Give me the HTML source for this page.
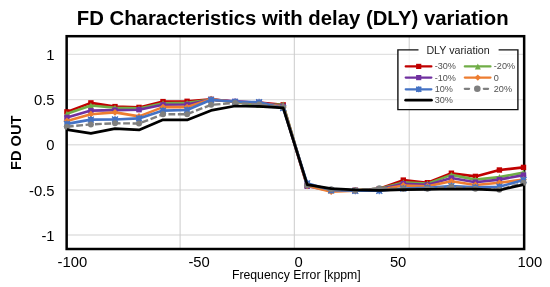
<!DOCTYPE html>
<html><head><meta charset="utf-8"><title>FD Characteristics</title>
<style>
html,body{margin:0;padding:0;background:#fff;}
body{width:550px;height:287px;overflow:hidden;}
svg{display:block;}
text{font-family:"Liberation Sans",Arial,sans-serif;fill:#000;}
.title{font-weight:bold;font-size:19.6px;}
.tick{font-size:14.8px;fill:#111;}
.ylab{font-weight:bold;font-size:14.3px;}
.xlab{font-size:12px;}
.lg{font-family:"Liberation Sans","DejaVu Sans",sans-serif;font-size:9.1px;fill:#505050;}
.lgt{font-family:"Liberation Sans","DejaVu Sans",sans-serif;font-size:10.6px;fill:#222;}
</style></head><body>
<svg width="550" height="287" viewBox="0 0 550 287">
<rect width="550" height="287" fill="#fff"/>
<text x="76.8" y="24.7" class="title" textLength="431.8" lengthAdjust="spacingAndGlyphs">FD Characteristics with delay (DLY) variation</text>
<g stroke="#e1e1e1" stroke-width="1.4">
<line x1="67" x2="524" y1="54.4" y2="54.4"/>
<line x1="67" x2="524" y1="99.6" y2="99.6"/>
<line x1="67" x2="524" y1="144.7" y2="144.7"/>
<line x1="67" x2="524" y1="190" y2="190"/>
<line x1="67" x2="524" y1="235" y2="235"/>
</g>
<g stroke="#cbcbcb" stroke-width="1">
<line x1="180.1" x2="180.1" y1="37" y2="248"/>
<line x1="294.3" x2="294.3" y1="37" y2="248"/>
<line x1="409.2" x2="409.2" y1="37" y2="248"/>
</g>
<rect x="66.65" y="36.2" width="457.5" height="212.8" fill="none" stroke="#000" stroke-width="2.5"/>
<polyline points="66.9,111.9 90.9,102.9 115.0,106.6 139.0,107.4 163.0,101.6 187.1,101.3 211.1,99.4 235.1,101.8 259.1,102.6 283.2,104.9 307.2,185.3 331.2,190.3 355.3,190.3 379.3,188.8 403.3,180.1 427.4,182.7 451.4,173.2 475.4,176.4 499.4,170.0 523.5,167.4" fill="none" stroke="#C00000" stroke-width="2.6" stroke-linejoin="round"/>
<rect x="64.2" y="109.2" width="5.4" height="5.4" fill="#C00000"/><rect x="88.2" y="100.2" width="5.4" height="5.4" fill="#C00000"/><rect x="112.3" y="103.9" width="5.4" height="5.4" fill="#C00000"/><rect x="136.3" y="104.7" width="5.4" height="5.4" fill="#C00000"/><rect x="160.3" y="98.9" width="5.4" height="5.4" fill="#C00000"/><rect x="184.4" y="98.6" width="5.4" height="5.4" fill="#C00000"/><rect x="208.4" y="96.7" width="5.4" height="5.4" fill="#C00000"/><rect x="232.4" y="99.1" width="5.4" height="5.4" fill="#C00000"/><rect x="256.4" y="99.9" width="5.4" height="5.4" fill="#C00000"/><rect x="280.5" y="102.2" width="5.4" height="5.4" fill="#C00000"/><rect x="304.5" y="182.6" width="5.4" height="5.4" fill="#C00000"/><rect x="328.5" y="187.6" width="5.4" height="5.4" fill="#C00000"/><rect x="352.6" y="187.6" width="5.4" height="5.4" fill="#C00000"/><rect x="376.6" y="186.1" width="5.4" height="5.4" fill="#C00000"/><rect x="400.6" y="177.4" width="5.4" height="5.4" fill="#C00000"/><rect x="424.7" y="180.0" width="5.4" height="5.4" fill="#C00000"/><rect x="448.7" y="170.5" width="5.4" height="5.4" fill="#C00000"/><rect x="472.7" y="173.7" width="5.4" height="5.4" fill="#C00000"/><rect x="496.7" y="167.3" width="5.4" height="5.4" fill="#C00000"/><rect x="520.8" y="164.7" width="5.4" height="5.4" fill="#C00000"/>
<polyline points="66.9,113.8 90.9,105.5 115.0,107.7 139.0,108.4 163.0,103.3 187.1,102.9 211.1,99.6 235.1,102.0 259.1,105.1 283.2,104.6 307.2,185.3 331.2,190.3 355.3,190.3 379.3,188.8 403.3,182.4 427.4,183.6 451.4,174.9 475.4,179.6 499.4,177.1 523.5,172.6" fill="none" stroke="#70AD47" stroke-width="2.6" stroke-linejoin="round"/>
<path d="M66.9 110.8L69.9 116.8H63.9Z" fill="#70AD47"/><path d="M90.9 102.5L93.9 108.5H87.9Z" fill="#70AD47"/><path d="M115.0 104.7L118.0 110.7H112.0Z" fill="#70AD47"/><path d="M139.0 105.4L142.0 111.4H136.0Z" fill="#70AD47"/><path d="M163.0 100.3L166.0 106.3H160.0Z" fill="#70AD47"/><path d="M187.1 99.9L190.1 105.9H184.1Z" fill="#70AD47"/><path d="M211.1 96.6L214.1 102.6H208.1Z" fill="#70AD47"/><path d="M235.1 99.0L238.1 105.0H232.1Z" fill="#70AD47"/><path d="M259.1 102.1L262.1 108.1H256.1Z" fill="#70AD47"/><path d="M283.2 101.6L286.2 107.6H280.2Z" fill="#70AD47"/><path d="M307.2 182.3L310.2 188.3H304.2Z" fill="#70AD47"/><path d="M331.2 187.3L334.2 193.3H328.2Z" fill="#70AD47"/><path d="M355.3 187.3L358.3 193.3H352.3Z" fill="#70AD47"/><path d="M379.3 185.8L382.3 191.8H376.3Z" fill="#70AD47"/><path d="M403.3 179.4L406.3 185.4H400.3Z" fill="#70AD47"/><path d="M427.4 180.6L430.4 186.6H424.4Z" fill="#70AD47"/><path d="M451.4 171.9L454.4 177.9H448.4Z" fill="#70AD47"/><path d="M475.4 176.6L478.4 182.6H472.4Z" fill="#70AD47"/><path d="M499.4 174.1L502.4 180.1H496.4Z" fill="#70AD47"/><path d="M523.5 169.6L526.5 175.6H520.5Z" fill="#70AD47"/>
<polyline points="66.9,117.4 90.9,110.6 115.0,110.1 139.0,109.7 163.0,104.8 187.1,104.5 211.1,99.6 235.1,101.4 259.1,102.6 283.2,106.3 307.2,186.3 331.2,190.6 355.3,190.6 379.3,189.3 403.3,183.7 427.4,184.9 451.4,178.0 475.4,182.2 499.4,179.6 523.5,175.1" fill="none" stroke="#7030A0" stroke-width="2.6" stroke-linejoin="round"/>
<rect x="64.2" y="114.7" width="5.4" height="5.4" fill="#7030A0"/><rect x="88.2" y="107.9" width="5.4" height="5.4" fill="#7030A0"/><rect x="112.3" y="107.4" width="5.4" height="5.4" fill="#7030A0"/><rect x="136.3" y="107.0" width="5.4" height="5.4" fill="#7030A0"/><rect x="160.3" y="102.1" width="5.4" height="5.4" fill="#7030A0"/><rect x="184.4" y="101.8" width="5.4" height="5.4" fill="#7030A0"/><rect x="208.4" y="96.9" width="5.4" height="5.4" fill="#7030A0"/><rect x="232.4" y="98.7" width="5.4" height="5.4" fill="#7030A0"/><rect x="256.4" y="99.9" width="5.4" height="5.4" fill="#7030A0"/><rect x="280.5" y="103.6" width="5.4" height="5.4" fill="#7030A0"/><rect x="304.5" y="183.6" width="5.4" height="5.4" fill="#7030A0"/><rect x="328.5" y="187.9" width="5.4" height="5.4" fill="#7030A0"/><rect x="352.6" y="187.9" width="5.4" height="5.4" fill="#7030A0"/><rect x="376.6" y="186.6" width="5.4" height="5.4" fill="#7030A0"/><rect x="400.6" y="181.0" width="5.4" height="5.4" fill="#7030A0"/><rect x="424.7" y="182.2" width="5.4" height="5.4" fill="#7030A0"/><rect x="448.7" y="175.3" width="5.4" height="5.4" fill="#7030A0"/><rect x="472.7" y="179.5" width="5.4" height="5.4" fill="#7030A0"/><rect x="496.7" y="176.9" width="5.4" height="5.4" fill="#7030A0"/><rect x="520.8" y="172.4" width="5.4" height="5.4" fill="#7030A0"/>
<polyline points="66.9,120.9 90.9,114.2 115.0,112.4 139.0,116.4 163.0,107.1 187.1,107.1 211.1,99.2 235.1,102.0 259.1,102.8 283.2,106.8 307.2,185.8 331.2,191.7 355.3,190.8 379.3,189.8 403.3,185.5 427.4,186.2 451.4,181.3 475.4,185.0 499.4,182.8 523.5,179.6" fill="none" stroke="#ED7D31" stroke-width="2.6" stroke-linejoin="round"/>
<path d="M66.9 117.5L70.3 120.9L66.9 124.3L63.5 120.9Z" fill="#ED7D31"/><path d="M90.9 110.8L94.3 114.2L90.9 117.6L87.5 114.2Z" fill="#ED7D31"/><path d="M115.0 109.0L118.4 112.4L115.0 115.8L111.6 112.4Z" fill="#ED7D31"/><path d="M139.0 113.0L142.4 116.4L139.0 119.8L135.6 116.4Z" fill="#ED7D31"/><path d="M163.0 103.7L166.4 107.1L163.0 110.5L159.6 107.1Z" fill="#ED7D31"/><path d="M187.1 103.7L190.5 107.1L187.1 110.5L183.7 107.1Z" fill="#ED7D31"/><path d="M211.1 95.8L214.5 99.2L211.1 102.6L207.7 99.2Z" fill="#ED7D31"/><path d="M235.1 98.6L238.5 102.0L235.1 105.4L231.7 102.0Z" fill="#ED7D31"/><path d="M259.1 99.4L262.5 102.8L259.1 106.2L255.7 102.8Z" fill="#ED7D31"/><path d="M283.2 103.4L286.6 106.8L283.2 110.2L279.8 106.8Z" fill="#ED7D31"/><path d="M307.2 182.4L310.6 185.8L307.2 189.2L303.8 185.8Z" fill="#ED7D31"/><path d="M331.2 188.3L334.6 191.7L331.2 195.1L327.8 191.7Z" fill="#ED7D31"/><path d="M355.3 187.4L358.7 190.8L355.3 194.2L351.9 190.8Z" fill="#ED7D31"/><path d="M379.3 186.4L382.7 189.8L379.3 193.2L375.9 189.8Z" fill="#ED7D31"/><path d="M403.3 182.1L406.7 185.5L403.3 188.9L399.9 185.5Z" fill="#ED7D31"/><path d="M427.4 182.8L430.8 186.2L427.4 189.6L424.0 186.2Z" fill="#ED7D31"/><path d="M451.4 177.9L454.8 181.3L451.4 184.7L448.0 181.3Z" fill="#ED7D31"/><path d="M475.4 181.6L478.8 185.0L475.4 188.4L472.0 185.0Z" fill="#ED7D31"/><path d="M499.4 179.4L502.8 182.8L499.4 186.2L496.0 182.8Z" fill="#ED7D31"/><path d="M523.5 176.2L526.9 179.6L523.5 183.0L520.1 179.6Z" fill="#ED7D31"/>
<polyline points="66.9,123.9 90.9,119.6 115.0,119.5 139.0,118.4 163.0,110.6 187.1,110.0 211.1,99.8 235.1,101.8 259.1,102.2 283.2,108.0 307.2,183.3 331.2,190.3 355.3,190.8 379.3,190.8 403.3,188.5 427.4,187.8 451.4,186.1 475.4,187.4 499.4,186.7 523.5,180.0" fill="none" stroke="#4472C4" stroke-width="2.6" stroke-linejoin="round"/>
<rect x="64.3" y="121.3" width="5.2" height="5.2" fill="#4472C4"/><path d="M63.9 120.9L69.9 126.9M69.9 120.9L63.9 126.9M66.9 120.4V127.4" stroke="#4472C4" stroke-width="1.1" fill="none"/><rect x="88.3" y="117.0" width="5.2" height="5.2" fill="#4472C4"/><path d="M87.9 116.6L93.9 122.6M93.9 116.6L87.9 122.6M90.9 116.1V123.1" stroke="#4472C4" stroke-width="1.1" fill="none"/><rect x="112.4" y="116.9" width="5.2" height="5.2" fill="#4472C4"/><path d="M112.0 116.5L118.0 122.5M118.0 116.5L112.0 122.5M115.0 116.0V123.0" stroke="#4472C4" stroke-width="1.1" fill="none"/><rect x="136.4" y="115.8" width="5.2" height="5.2" fill="#4472C4"/><path d="M136.0 115.4L142.0 121.4M142.0 115.4L136.0 121.4M139.0 114.9V121.9" stroke="#4472C4" stroke-width="1.1" fill="none"/><rect x="160.4" y="108.0" width="5.2" height="5.2" fill="#4472C4"/><path d="M160.0 107.6L166.0 113.6M166.0 107.6L160.0 113.6M163.0 107.1V114.1" stroke="#4472C4" stroke-width="1.1" fill="none"/><rect x="184.5" y="107.4" width="5.2" height="5.2" fill="#4472C4"/><path d="M184.1 107.0L190.1 113.0M190.1 107.0L184.1 113.0M187.1 106.5V113.5" stroke="#4472C4" stroke-width="1.1" fill="none"/><rect x="208.5" y="97.2" width="5.2" height="5.2" fill="#4472C4"/><path d="M208.1 96.8L214.1 102.8M214.1 96.8L208.1 102.8M211.1 96.3V103.3" stroke="#4472C4" stroke-width="1.1" fill="none"/><rect x="232.5" y="99.2" width="5.2" height="5.2" fill="#4472C4"/><path d="M232.1 98.8L238.1 104.8M238.1 98.8L232.1 104.8M235.1 98.3V105.3" stroke="#4472C4" stroke-width="1.1" fill="none"/><rect x="256.5" y="99.6" width="5.2" height="5.2" fill="#4472C4"/><path d="M256.1 99.2L262.1 105.2M262.1 99.2L256.1 105.2M259.1 98.7V105.7" stroke="#4472C4" stroke-width="1.1" fill="none"/><rect x="280.6" y="105.4" width="5.2" height="5.2" fill="#4472C4"/><path d="M280.2 105.0L286.2 111.0M286.2 105.0L280.2 111.0M283.2 104.5V111.5" stroke="#4472C4" stroke-width="1.1" fill="none"/><rect x="304.6" y="180.7" width="5.2" height="5.2" fill="#4472C4"/><path d="M304.2 180.3L310.2 186.3M310.2 180.3L304.2 186.3M307.2 179.8V186.8" stroke="#4472C4" stroke-width="1.1" fill="none"/><rect x="328.6" y="187.7" width="5.2" height="5.2" fill="#4472C4"/><path d="M328.2 187.3L334.2 193.3M334.2 187.3L328.2 193.3M331.2 186.8V193.8" stroke="#4472C4" stroke-width="1.1" fill="none"/><rect x="352.7" y="188.2" width="5.2" height="5.2" fill="#4472C4"/><path d="M352.3 187.8L358.3 193.8M358.3 187.8L352.3 193.8M355.3 187.3V194.3" stroke="#4472C4" stroke-width="1.1" fill="none"/><rect x="376.7" y="188.2" width="5.2" height="5.2" fill="#4472C4"/><path d="M376.3 187.8L382.3 193.8M382.3 187.8L376.3 193.8M379.3 187.3V194.3" stroke="#4472C4" stroke-width="1.1" fill="none"/><rect x="400.7" y="185.9" width="5.2" height="5.2" fill="#4472C4"/><path d="M400.3 185.5L406.3 191.5M406.3 185.5L400.3 191.5M403.3 185.0V192.0" stroke="#4472C4" stroke-width="1.1" fill="none"/><rect x="424.8" y="185.2" width="5.2" height="5.2" fill="#4472C4"/><path d="M424.4 184.8L430.4 190.8M430.4 184.8L424.4 190.8M427.4 184.3V191.3" stroke="#4472C4" stroke-width="1.1" fill="none"/><rect x="448.8" y="183.5" width="5.2" height="5.2" fill="#4472C4"/><path d="M448.4 183.1L454.4 189.1M454.4 183.1L448.4 189.1M451.4 182.6V189.6" stroke="#4472C4" stroke-width="1.1" fill="none"/><rect x="472.8" y="184.8" width="5.2" height="5.2" fill="#4472C4"/><path d="M472.4 184.4L478.4 190.4M478.4 184.4L472.4 190.4M475.4 183.9V190.9" stroke="#4472C4" stroke-width="1.1" fill="none"/><rect x="496.8" y="184.1" width="5.2" height="5.2" fill="#4472C4"/><path d="M496.4 183.7L502.4 189.7M502.4 183.7L496.4 189.7M499.4 183.2V190.2" stroke="#4472C4" stroke-width="1.1" fill="none"/><rect x="520.9" y="177.4" width="5.2" height="5.2" fill="#4472C4"/><path d="M520.5 177.0L526.5 183.0M526.5 177.0L520.5 183.0M523.5 176.5V183.5" stroke="#4472C4" stroke-width="1.1" fill="none"/>
<polyline points="66.9,126.7 90.9,124.4 115.0,123.3 139.0,123.5 163.0,114.3 187.1,114.2 211.1,104.8 235.1,103.0 259.1,104.4 283.2,107.2 307.2,185.3 331.2,189.3 355.3,190.3 379.3,188.2 403.3,189.1 427.4,188.8 451.4,186.8 475.4,188.8 499.4,189.8 523.5,182.8" fill="none" stroke="#7F7F7F" stroke-width="2.4" stroke-linejoin="round" stroke-dasharray="6.8 2.6"/>
<circle cx="66.9" cy="126.7" r="3.0" fill="#7F7F7F"/><circle cx="90.9" cy="124.4" r="3.0" fill="#7F7F7F"/><circle cx="115.0" cy="123.3" r="3.0" fill="#7F7F7F"/><circle cx="139.0" cy="123.5" r="3.0" fill="#7F7F7F"/><circle cx="163.0" cy="114.3" r="3.0" fill="#7F7F7F"/><circle cx="187.1" cy="114.2" r="3.0" fill="#7F7F7F"/><circle cx="211.1" cy="104.8" r="3.0" fill="#7F7F7F"/><circle cx="235.1" cy="103.0" r="3.0" fill="#7F7F7F"/><circle cx="259.1" cy="104.4" r="3.0" fill="#7F7F7F"/><circle cx="283.2" cy="107.2" r="3.0" fill="#7F7F7F"/><circle cx="307.2" cy="185.3" r="3.0" fill="#7F7F7F"/><circle cx="331.2" cy="189.3" r="3.0" fill="#7F7F7F"/><circle cx="355.3" cy="190.3" r="3.0" fill="#7F7F7F"/><circle cx="379.3" cy="188.2" r="3.0" fill="#7F7F7F"/><circle cx="403.3" cy="189.1" r="3.0" fill="#7F7F7F"/><circle cx="427.4" cy="188.8" r="3.0" fill="#7F7F7F"/><circle cx="451.4" cy="186.8" r="3.0" fill="#7F7F7F"/><circle cx="475.4" cy="188.8" r="3.0" fill="#7F7F7F"/><circle cx="499.4" cy="189.8" r="3.0" fill="#7F7F7F"/><circle cx="523.5" cy="182.8" r="3.0" fill="#7F7F7F"/>
<polyline points="66.9,129.6 90.9,133.4 115.0,128.7 139.0,129.9 163.0,119.8 187.1,119.9 211.1,110.4 235.1,106.0 259.1,106.4 283.2,107.8 307.2,184.6 331.2,188.6 355.3,189.8 379.3,190.4 403.3,189.6 427.4,189.4 451.4,189.0 475.4,189.2 499.4,190.2 523.5,184.6" fill="none" stroke="#000" stroke-width="2.7" stroke-linejoin="round"/>
<rect x="397.9" y="49.9" width="120" height="59.7" fill="#fff" fill-opacity="0.8" stroke="none"/>
<rect x="418.5" y="44" width="80.1" height="12" fill="#fff"/>
<path d="M418.5 49.9H397.9V109.6H517.9V49.9H498.6" fill="none" stroke="#111" stroke-width="1.4"/>
<text x="426.4" y="54" class="lgt" textLength="63.3" lengthAdjust="spacingAndGlyphs">DLY variation</text>
<line x1="405.7" y1="66.4" x2="431.4" y2="66.4" stroke="#C00000" stroke-width="2.2" stroke-linecap="round"/><rect x="416.1" y="63.8" width="5.2" height="5.2" fill="#C00000"/><text x="434.7" y="69.3" class="lg">-30%</text>
<line x1="464.8" y1="66.4" x2="490.5" y2="66.4" stroke="#70AD47" stroke-width="2.2" stroke-linecap="round"/><path d="M477.8 63.4L480.8 69.4H474.8Z" fill="#70AD47"/><text x="493.8" y="69.3" class="lg">-20%</text>
<line x1="405.7" y1="77.6" x2="431.4" y2="77.6" stroke="#7030A0" stroke-width="2.2" stroke-linecap="round"/><rect x="416.1" y="75.0" width="5.2" height="5.2" fill="#7030A0"/><text x="434.7" y="80.5" class="lg">-10%</text>
<line x1="464.8" y1="77.6" x2="490.5" y2="77.6" stroke="#ED7D31" stroke-width="2.2" stroke-linecap="round"/><path d="M477.8 74.4L481.0 77.6L477.8 80.8L474.6 77.6Z" fill="#ED7D31"/><text x="493.8" y="80.5" class="lg">0</text>
<line x1="405.7" y1="89.3" x2="431.4" y2="89.3" stroke="#4472C4" stroke-width="2.2" stroke-linecap="round"/><rect x="416.1" y="86.7" width="5.2" height="5.2" fill="#4472C4"/><path d="M416.2 86.8L421.2 91.8M421.2 86.8L416.2 91.8M418.7 86.3V92.3" stroke="#4472C4" stroke-width="1.1" fill="none"/><text x="434.7" y="92.2" class="lg">10%</text>
<path d="M464.8 88.8H469.1M483.8 88.8H488.1" stroke="#7F7F7F" stroke-width="2.2" stroke-linecap="round" fill="none"/><circle cx="477.3" cy="88.8" r="3.3" fill="#7F7F7F"/><text x="493.8" y="91.7" class="lg">20%</text>
<line x1="405.7" y1="100.2" x2="431.4" y2="100.2" stroke="#000" stroke-width="2.8" stroke-linecap="round"/><text x="434.7" y="103.1" class="lg">30%</text>
<g class="tick" text-anchor="end">
<text x="54.6" y="60">1</text>
<text x="54.6" y="105.3">0.5</text>
<text x="54.6" y="150.3">0</text>
<text x="54.6" y="195.6">-0.5</text>
<text x="54.6" y="240.7">-1</text>
</g>
<g class="tick">
<text x="57.6" y="267">-100</text>
<text x="188.4" y="267">-50</text>
<text x="294.6" y="267">0</text>
<text x="389.9" y="267">50</text>
<text x="517.6" y="267">100</text>
</g>
<text class="ylab" transform="translate(21.0,169.9) rotate(-90)" textLength="54.2" lengthAdjust="spacingAndGlyphs">FD OUT</text>
<text x="231.9" y="278.8" class="xlab" textLength="128.8" lengthAdjust="spacingAndGlyphs">Frequency Error [kppm]</text>
</svg>
</body></html>
